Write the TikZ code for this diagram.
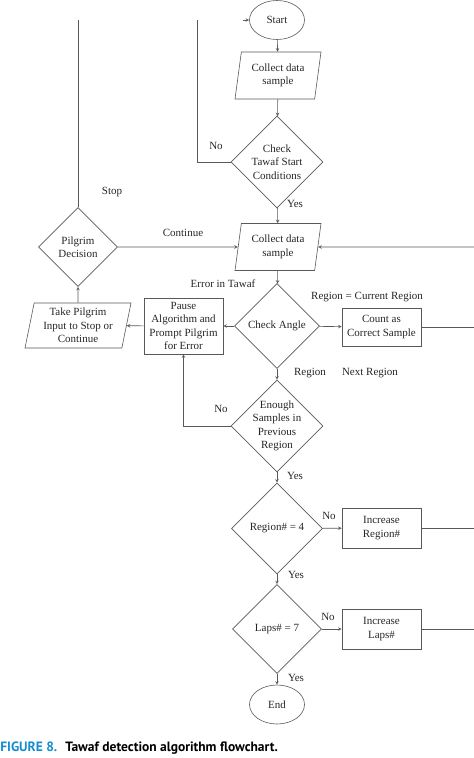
\documentclass[tikz,border=0pt]{standalone}
\usepackage{fontspec}
\setmainfont{Liberation Serif}
\newfontfamily\capfont{PT Sans}
\usetikzlibrary{shapes.geometric}
\definecolor{linegray}{gray}{0.35}
\definecolor{capblue}{RGB}{20,140,205}
\begin{document}
\begin{tikzpicture}[x=1pt,y=-1pt,
            every node/.style={font=\fontsize{11}{13.5}\selectfont,text=black!85,align=center},
            every path/.style={color=linegray,line width=0.6pt,>=stealth},
            term/.style={draw,ellipse,minimum width=55pt,minimum height=39pt,inner sep=0pt},
            io/.style={draw,trapezium,trapezium left angle=76,trapezium right angle=104,
                trapezium stretches body,minimum width=86pt,minimum height=47pt,inner sep=1pt},
            dec/.style={draw,diamond,aspect=1,inner sep=-8pt,minimum width=#1,minimum height=#1},
            box/.style={draw,rectangle,minimum width=79pt,inner sep=1pt}
            ]
            \useasboundingbox (0,0) rectangle (474,758);
            % main column
            \node[term] (start) at (277,20) {Start};
            \node[io] (collect1) at (278,75.5) {Collect data\\sample};
            \node[dec=92pt] (startchk) at (277,162) {Check\\Tawaf Start\\Conditions};
            \node[io] (collect2) at (278,247) {Collect data\\sample};
            \node[dec=85pt] (angle) at (277,326) {Check Angle};
            \node[dec=92pt] (enough) at (277,426) {Enough\\Samples in\\Previous\\Region};
            \node[dec=91pt] (regchk) at (277,528.5) {Region\# = 4};
            \node[dec=89pt] (lapchk) at (277,629) {Laps\# = 7};
            \node[term] (end) at (277,704.5) {End};
            % side boxes
            \node[dec=79pt] (decide) at (78,247) {Pilgrim\\Decision};
            \node[io,minimum width=106pt,minimum height=45pt] (input) at (78,325.5) {Take Pilgrim\\Input to Stop or\\Continue};
            \node[box,minimum height=56pt] (pause) at (183.5,326) {Pause\\Algorithm and\\Prompt Pilgrim\\for Error};
            \node[box,minimum height=38pt] (count) at (381.5,327) {Count as\\Correct Sample};
            \node[box,minimum height=40pt] (increg) at (381.5,528) {Increase\\Region\#};
            \node[box,minimum height=40pt] (inclap) at (381.5,629) {Increase\\Laps\#};
            % free ends
            \coordinate (noTop) at (197,20);
            \coordinate (startIn) at (243,20);
            \coordinate (stopTop) at (78,20);
            \coordinate (backIn) at (474,247);
            \coordinate (countOut) at (474,327);
            \coordinate (regOut) at (474,528);
            \coordinate (lapOut) at (474,629);
            % connectors
            \draw[->] (startIn) -- (start.west);
            \draw[->] (start) -- (collect1);
            \draw[->] (collect1) -- (startchk);
            \draw (startchk.west) -| (noTop);
            \draw[->] (startchk) -- (collect2);
            \draw (decide.north) -- (stopTop);
            \draw[->] (decide) -- (collect2);
            \draw[->] (backIn) -- (collect2.east);
            \draw[->] (collect2) -- (angle);
            \draw[->] (angle) -- (count);
            \draw (count) -- (countOut);
            \draw[->] (angle) -- (pause);
            \draw[->] (pause) -- (input);
            \draw[->] (input) -- (decide);
            \draw[->] (angle) -- (enough);
            \draw[->] (enough.west) -| (pause.south);
            \draw[->] (enough) -- (regchk);
            \draw[->] (regchk) -- (increg);
            \draw (increg) -- (regOut);
            \draw[->] (regchk) -- (lapchk);
            \draw[->] (lapchk) -- (inclap);
            \draw (inclap) -- (lapOut);
            \draw[->] (lapchk) -- (end);
            % labels
            \node (noStart) at (216,146) {No};
            \node (yesStart) at (295,204) {Yes};
            \node (stop) at (112,192) {Stop};
            \node (cont) at (183,233) {Continue};
            \node (err) at (223,284) {Error in Tawaf};
            \node (same) at (367,297) {Region = Current Region};
            \node (regA) at (310,373) {Region};
            \node (regB) at (370,373) {Next Region};
            \node (noEnough) at (221,409) {No};
            \node (yesEnough) at (295,476) {Yes};
            \node (noReg) at (329,516) {No};
            \node (yesReg) at (296,575) {Yes};
            \node (noLap) at (328,617) {No};
            \node (yesLap) at (296,678) {Yes};
            \node[anchor=west,inner sep=0pt,font=\capfont\bfseries\fontsize{13.5}{15}\selectfont,text=black] (caption) at (0,748)
                {\textcolor{capblue}{FIGURE 8.}\hspace{8pt}Tawaf detection algorithm flowchart.};
        \end{tikzpicture}
\end{document}
